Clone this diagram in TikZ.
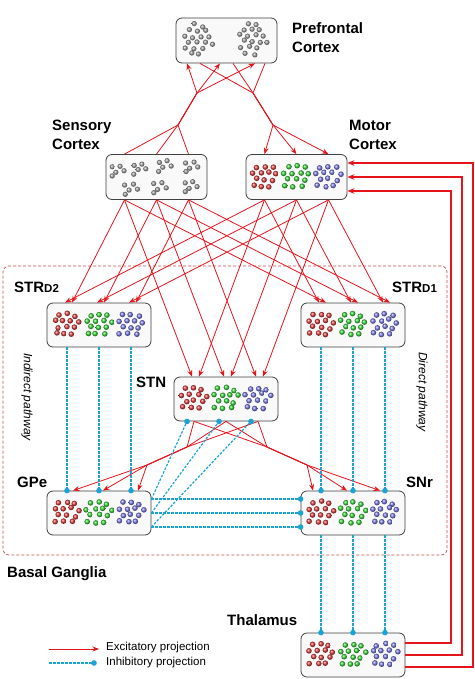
\documentclass[tikz,border=0pt]{standalone}
\usepackage{fontspec}
\setmainfont{Liberation Sans}
\usetikzlibrary{arrows.meta,positioning,calc}
\definecolor{excred}{HTML}{E8141C}
\definecolor{inhblue}{HTML}{1AA3D4}
\definecolor{bgframe}{HTML}{C0504D}
\definecolor{nred}{HTML}{E03838}
\definecolor{ngreen}{HTML}{33D433}
\definecolor{nblue}{HTML}{7676E6}
\definecolor{ngray}{HTML}{9C9C9C}

% clusters of cells
\newcommand{\neurons}[2]{%
  \foreach \dx/\dy in {-8/-10,0/-11,8/-9,-12/-4,-4/-4,4/-5,12/-3,-8/2,0/2,8/3,-11/8,-3/9,5/9}
    \shade[ball color=#2] ($(#1)+(\dx+rand,\dy+rand)$) circle[radius=2.8];}
\newcommand{\fewneurons}[2]{%
  \foreach \dx/\dy in {-5/-4,3/-5,-1/1,7/0,-5/5}
    \shade[ball color=ngray] ($(#1,#2)+(\dx+0.5*rand,\dy+0.5*rand)$) circle[radius=2.6];}
\newcommand{\manyneurons}[2]{%
  \foreach \dx/\dy in {-4/-16,4/-14,-9/-10,-1/-9,7/-9,-13/-4,-5/-3,3/-4,11/-3,-9/2,-1/2,7/3,14/4,-12/8,-4/8,4/9,-7/14,1/15}
    \shade[ball color=ngray] ($(#1,#2)+(\dx+rand,\dy+rand)$) circle[radius=2.6];}

\begin{document}
\begin{tikzpicture}[x=1pt, y=-1pt,
  region/.style={draw=black!75, fill=gray!5, rounded corners=6pt, line width=0.8pt, minimum width=104pt, minimum height=44pt, inner sep=0pt},
  cortex/.style={region, minimum width=101pt, minimum height=45pt},
  bgbox/.style={draw=bgframe, line width=0.7pt, dash pattern=on 3pt off 2pt, rounded corners=6pt, minimum width=444pt, minimum height=289pt, inner sep=0pt},
  lab/.style={font=\bfseries\fontsize{15}{19}\selectfont, inner sep=0pt, align=left},
  pathlab/.style={font=\itshape\fontsize{12}{14}\selectfont, inner sep=0pt, rotate=-90},
  legend/.style={font=\fontsize{11.5}{14}\selectfont, inner sep=0pt},
  exc/.style={draw=excred, line width=0.8pt, -{Stealth[length=6.5pt,width=5pt]}},
  fb/.style={draw=excred, line width=1.5pt, -{Stealth[length=7pt,width=5.5pt]}},
  inh/.style={draw=inhblue, line width=1.2pt, dash pattern=on 2.5pt off 1.5pt, -{Circle[length=5.5pt]}, shorten >=-2.75pt}
]
\pgfmathsetseed{7}
\useasboundingbox[fill=white] (0,0) rectangle (474,679);

% frame of the basal ganglia
\node[bgbox] (bg) at (225,410.5) {};

% regions
\node[cortex] (pfc) at (226.5,40.5) {};
\node[cortex] (sc) at (156.5,177) {};
\node[cortex] (mc) at (296.5,177) {};
\node[region] (strd2) at (99,325) {};
\node[region] (strd1) at (353,325) {};
\node[region] (stn) at (226,399) {};
\node[region] (gpe) at (99,513) {};
\node[region] (snr) at (353,513) {};
\node[region] (thal) at (353,655) {};

% channel points
\foreach \b in {sc,mc,strd2,strd1,stn,gpe,snr,thal}
  \foreach \i/\dx in {1/-32,2/0,3/32} {
    \coordinate (\b-t\i) at ($(\b.north)+(\dx,0)$);
    \coordinate (\b-b\i) at ($(\b.south)+(\dx,0)$);
    \coordinate (\b-c\i) at ($(\b.center)+(\dx,0)$);
    \coordinate (\b-l\i) at ($(\b.north)+(\dx-2,0)$);
    \coordinate (\b-r\i) at ($(\b.north)+(\dx+5,0)$);
  }
\foreach \i/\dx/\ex in {1/-39.5/-26.5,2/-6.5/6.5,3/28.5/38.5} {
  \coordinate (pfc-i\i) at ($(pfc.south)+(\dx,0)$);
  \coordinate (pfc-o\i) at ($(pfc.south)+(\ex,0)$);
}
\foreach \i/\ga/\sa in {1/-26/-40,2/4/-6,3/39/27} {
  \coordinate (gpe-a\i) at ($(gpe.north)+(\ga,0)$);
  \coordinate (snr-a\i) at ($(snr.north)+(\sa,0)$);
  \coordinate (stn-d\i) at ($(stn-b\i)+(-7,0)$);
}
\foreach \i/\dy/\ty in {1/-14/-12,2/0/0,3/14/12} {
  \coordinate (gpe-e\i) at ($(gpe.east)+(0,\dy)$);
  \coordinate (snr-w\i) at ($(snr.west)+(0,\dy)$);
  \coordinate (mc-e\i) at ($(mc.east)+(0,\dy)$);
  \coordinate (thal-e\i) at ($(thal.east)+(0,\ty)$);
}
\coordinate (sc-j1) at (178,125);
\coordinate (sc-j2) at (197,93);
\coordinate (mc-j1) at (253,93);
\coordinate (mc-j2) at (273,125);
\coordinate (gp-j1) at (187,447);
\coordinate (gp-j2) at (147,465);
\coordinate (sn-j1) at (267,447);
\coordinate (sn-j2) at (307,465);

% cells
\manyneurons{198}{40}
\manyneurons{253}{39}
\foreach \x/\y in {117/171,139/169,164/166,191/167,130/189,159/188,190/187} {
  \fewneurons{\x}{\y}
}
\foreach \b in {mc,strd2,strd1,stn,gpe,snr,thal} {
  \neurons{\b-c1}{nred}
  \neurons{\b-c2}{ngreen}
  \neurons{\b-c3}{nblue}
}

% cortical loops
\foreach \i in {1,2,3} {
  \draw[exc] (sc-t\i) -- (sc-j1) -- (sc-j2) -- (pfc-i\i);
  \draw[exc] (pfc-o\i) -- (mc-j1) -- (mc-j2) -- (mc-t\i);
}

% cortex to striatum and STN
\foreach \i in {1,2,3} {
  \draw[exc] (sc-b\i) -- (strd2-r\i);
  \draw[exc] (sc-b\i) -- (stn-l\i);
  \draw[exc] (sc-b\i) -- (strd1-r\i);
  \draw[exc] (mc-b\i) -- (strd2-l\i);
  \draw[exc] (mc-b\i) -- (stn-r\i);
  \draw[exc] (mc-b\i) -- (strd1-l\i);
}

% STN to GPe and SNr
\foreach \i in {1,2,3} {
  \draw[exc] (stn-b\i) -- (gp-j1) -- (gp-j2) -- (gpe-a\i);
  \draw[exc] (stn-b\i) -- (sn-j1) -- (sn-j2) -- (snr-a\i);
}

% inhibitory projections
\foreach \i in {1,2,3} {
  \draw[inh] (strd2-b\i) -- (gpe-t\i);
  \draw[inh] (strd1-b\i) -- (snr-t\i);
  \draw[inh] (snr-b\i) -- (thal-t\i);
  \draw[inh] (gpe-e\i) -- (snr-w\i);
  \draw[inh] (gpe-e\i) -- (stn-d\i);
}

% thalamus back to motor cortex
\draw[fb] (thal-e1) -- ++(45.5,0) |- (mc-e3);
\draw[fb] (thal-e2) -- ++(56.5,0) |- (mc-e2);
\draw[fb] (thal-e3) -- ++(67.5,0) |- (mc-e1);

% labels
\node[lab, anchor=north west] (pfcl) at (292,22) {Prefrontal\\Cortex};
\node[lab, anchor=north west] (scl) at (52,120) {Sensory\\Cortex};
\node[lab, anchor=north west] (mcl) at (349,120) {Motor\\Cortex};
\node[lab, anchor=base west] (strd2l) at (14,292) {STR{\fontsize{11.5}{12}\selectfont D2}};
\node[lab, anchor=base west] (strd1l) at (392,292) {STR{\fontsize{11.5}{12}\selectfont D1}};
\node[lab, anchor=base west] (stnl) at (136,387) {STN};
\node[lab, anchor=base west] (gpel) at (17,487) {GPe};
\node[lab, anchor=base west] (snrl) at (406,487) {SNr};
\node[lab, anchor=base west] (bgl) at (7,577) {Basal Ganglia};
\node[lab, anchor=base west] (thall) at (227,625) {Thalamus};
\node[pathlab] (indl) at (27,397) {Indirect pathway};
\node[pathlab] (dirl) at (422,392) {Direct pathway};

% legend
\coordinate (lg-e1) at (49,649);
\coordinate (lg-e2) at (99,649);
\coordinate (lg-i1) at (49,663);
\coordinate (lg-i2) at (94,663);
\draw[exc] (lg-e1) -- (lg-e2);
\draw[inh] (lg-i1) -- (lg-i2);
\node[legend, anchor=west] (lge) at (106,648) {Excitatory projection};
\node[legend, anchor=west] (lgi) at (106,663) {Inhibitory projection};
\end{tikzpicture}
\end{document}
